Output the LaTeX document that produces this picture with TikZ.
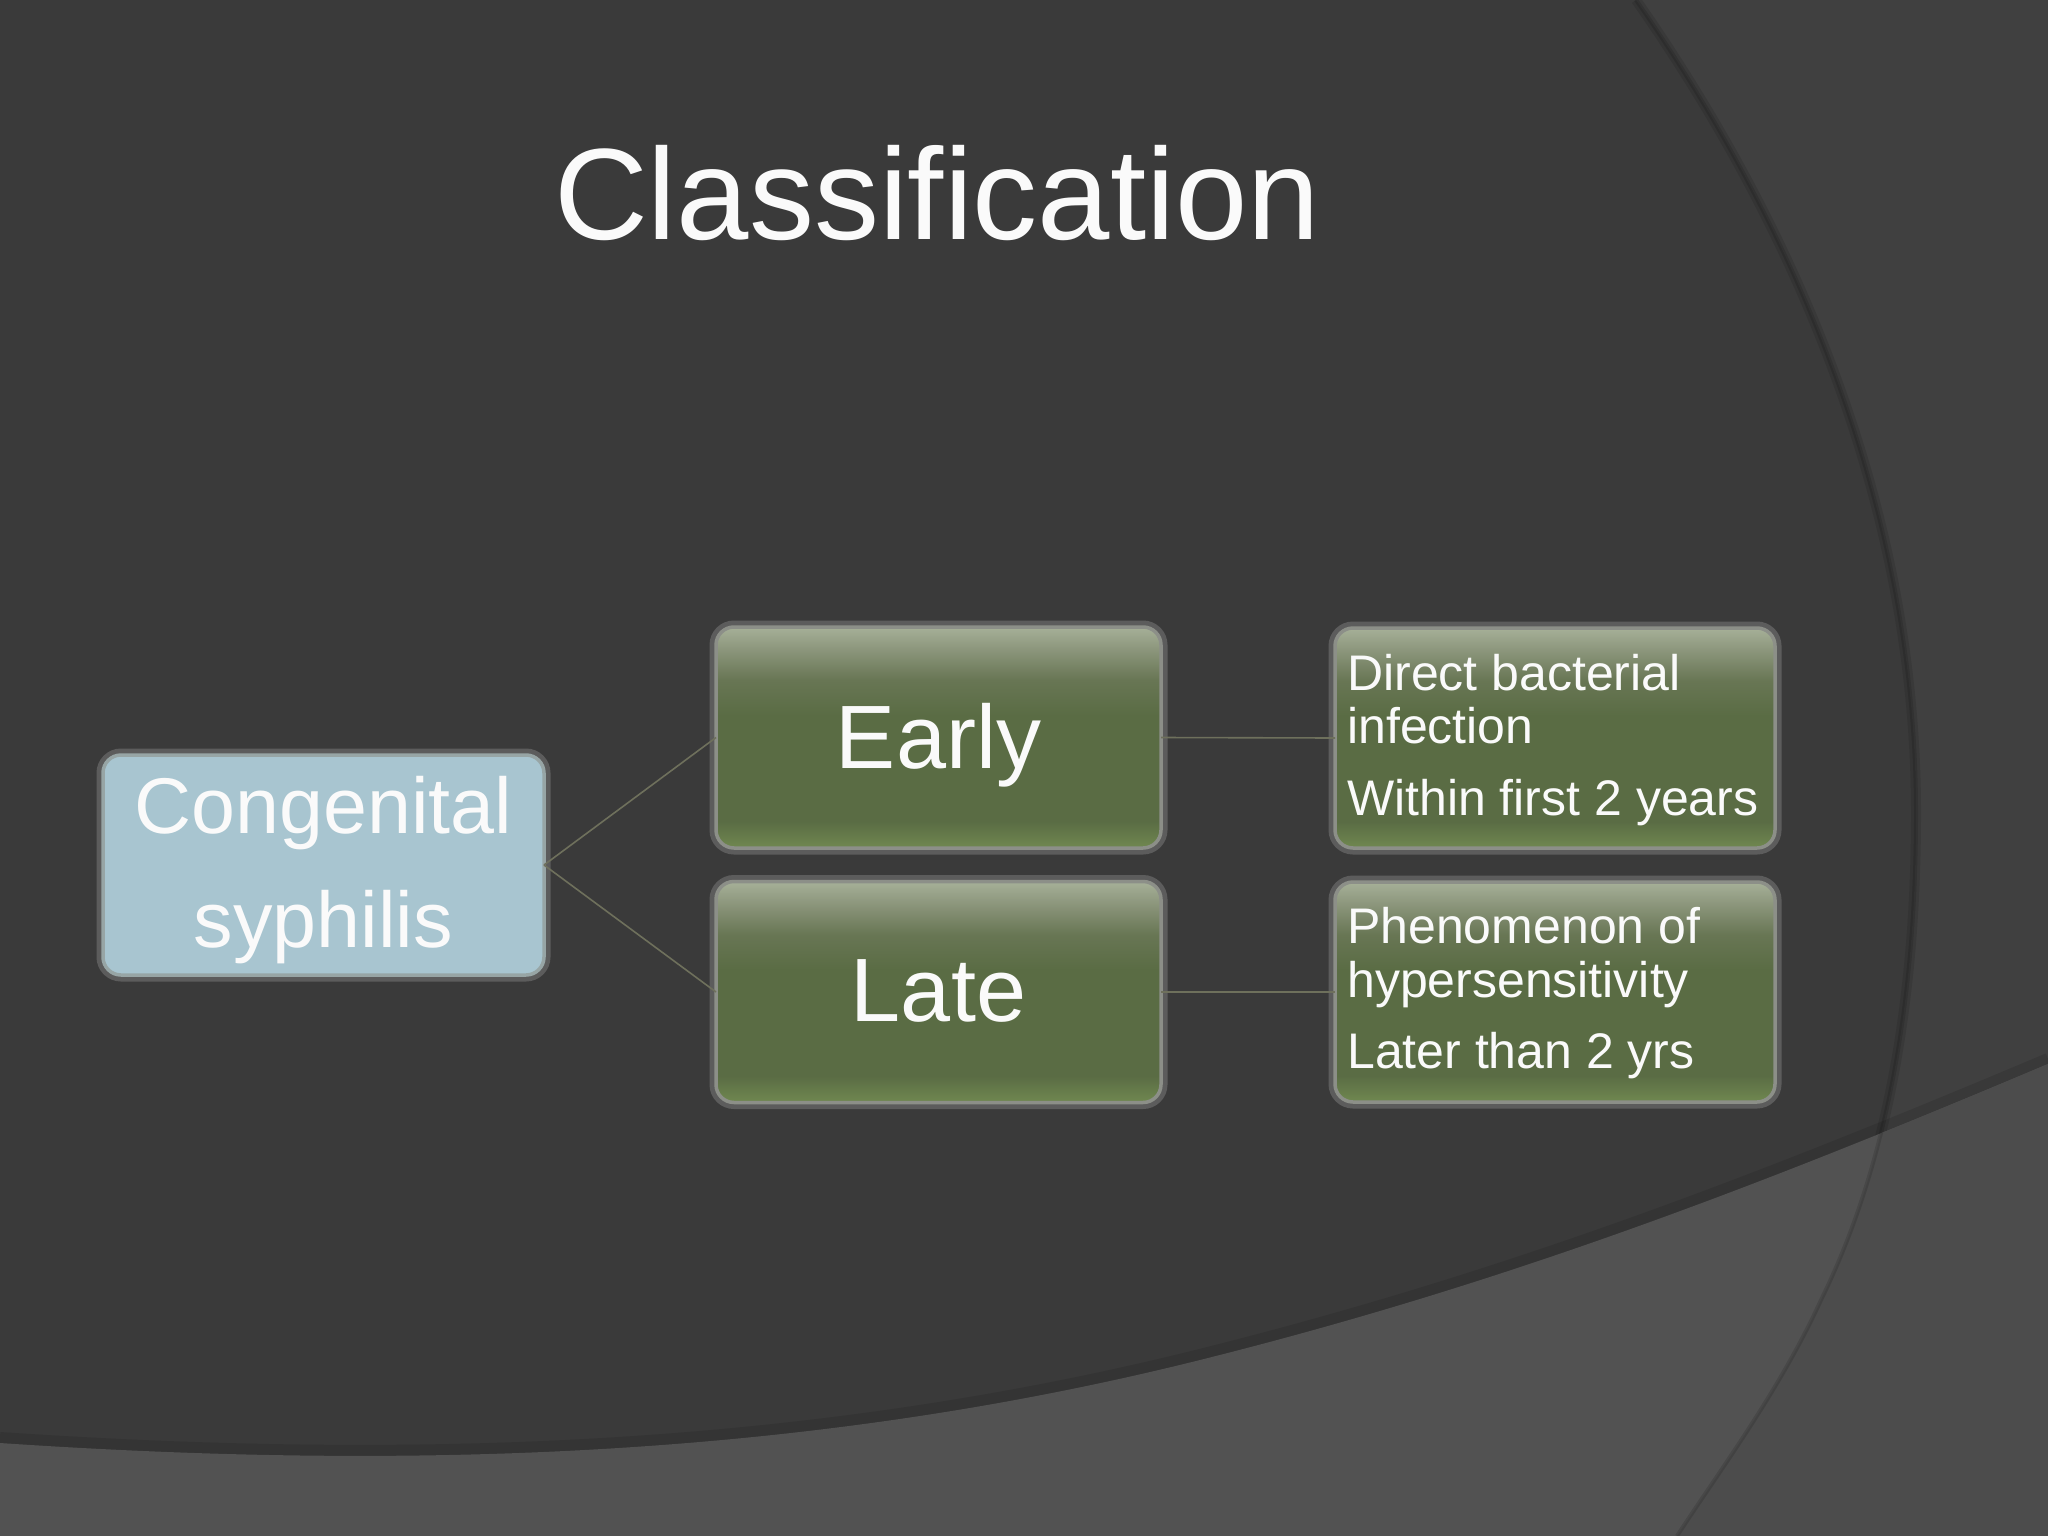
\documentclass[tikz,border=0pt]{standalone}
\usepackage{fontspec}
\setmainfont{Liberation Sans}
\definecolor{bgmain}{RGB}{58,58,58}
\definecolor{bgright}{RGB}{64,64,64}
\definecolor{bgband}{RGB}{82,82,82}
\definecolor{bgbandr}{RGB}{76,76,76}
\definecolor{bluefill}{RGB}{168,197,208}
\definecolor{gtop}{RGB}{166,176,152}
\definecolor{gup}{RGB}{140,150,124}
\definecolor{gup2}{RGB}{104,118,84}
\definecolor{gmid}{RGB}{90,108,68}
\definecolor{gbot}{RGB}{112,136,80}
\definecolor{edgec}{RGB}{140,143,136}
\definecolor{glowc}{RGB}{92,92,92}
\definecolor{connc}{RGB}{110,112,92}
\definecolor{txtc}{RGB}{250,250,250}
\pgfdeclareverticalshading{greenbox}{100bp}{color(0bp)=(gbot); color(25bp)=(gbot); color(31bp)=(gmid); color(55bp)=(gmid); color(63bp)=(gup2); color(70bp)=(gup); color(75bp)=(gtop); color(100bp)=(gtop)}
\begin{document}
\begin{tikzpicture}[x=1pt,y=-1pt,
  gbox/.style={rounded corners=18pt, shading=greenbox, draw=edgec, line width=3.5pt,
    preaction={draw=glowc, line width=13pt},
    minimum width=445pt, minimum height=221pt, inner sep=0pt, outer sep=0pt},
  bbox/.style={rounded corners=18pt, fill=bluefill, draw=edgec!60!bluefill, line width=3.5pt,
    preaction={draw=glowc, line width=13pt},
    minimum width=441pt, minimum height=220pt, inner sep=0pt, outer sep=0pt},
  conn/.style={draw=connc, line width=1.6pt},
  bigtxt/.style={text=txtc, font=\fontsize{90}{100}\selectfont, anchor=base, inner sep=0pt},
  midtxt/.style={text=txtc, font=\fontsize{79}{90}\selectfont, anchor=base, inner sep=0pt},
  smalltxt/.style={text=txtc, font=\fontsize{50}{56}\selectfont, anchor=base west, inner sep=0pt}]
\useasboundingbox (0,0) rectangle (2048,1536);
% background
\fill[bgmain] (0,0) rectangle (2048,1536);
\fill[bgright] (1636,0) .. controls (1790,220) and (1916,500) .. (1916,813)
  .. controls (1916,1050) and (1870,1200) .. (1821,1300)
  .. controls (1780,1390) and (1720,1470) .. (1677,1536) -- (2048,1536) -- (2048,0) -- cycle;
\draw[black, opacity=0.10, line width=10pt] (1636,0) .. controls (1790,220) and (1916,500) .. (1916,813)
  .. controls (1916,1050) and (1870,1200) .. (1821,1300);
\draw[black, opacity=0.12, line width=4pt] (1636,0) .. controls (1790,220) and (1916,500) .. (1916,813)
  .. controls (1916,1050) and (1870,1200) .. (1821,1300);
\draw[black, opacity=0.10, line width=12pt] (0,1438) .. controls (400,1465) and (800,1455) .. (1200,1355)
  .. controls (1500,1280) and (1750,1185) .. (2048,1059);
\fill[bgband] (0,1443) .. controls (400,1470) and (800,1460) .. (1200,1360)
  .. controls (1500,1285) and (1750,1190) .. (2048,1064) -- (2048,1536) -- (0,1536) -- cycle;
\begin{scope}
  \clip (0,1443) .. controls (400,1470) and (800,1460) .. (1200,1360)
  .. controls (1500,1285) and (1750,1190) .. (2048,1064) -- (2048,1536) -- (0,1536) -- cycle;
  \fill[bgbandr] (1916,813) .. controls (1916,1050) and (1870,1200) .. (1821,1300)
  .. controls (1780,1390) and (1720,1470) .. (1677,1536) -- (2048,1536) -- (2048,813) -- cycle;
  \draw[black, opacity=0.12, line width=4pt] (1916,813) .. controls (1916,1050) and (1870,1200) .. (1821,1300)
  .. controls (1780,1390) and (1720,1470) .. (1677,1536);
\end{scope}
% title
\node[text=txtc, font=\fontsize{130}{150}\selectfont, anchor=base, inner sep=0pt] (title) at (937,239) {Classification};
% boxes
\node[bbox] (cong) at (323.5,865) {};
\node[gbox] (early) at (938.5,737.5) {};
\node[gbox] (late) at (938.5,992) {};
\node[gbox, minimum width=440pt, minimum height=220pt] (direct) at (1555,738) {};
\node[gbox, minimum width=440pt, minimum height=220pt] (phen) at (1555,992) {};
% connectors
\draw[conn] (cong.east) -- (early.west);
\draw[conn] (cong.east) -- (late.west);
\draw[conn] (early.east) -- (direct.west);
\draw[conn] (late.east) -- (phen.west);
% texts
\node[midtxt] (t1) at (323.5,833) {Congenital};
\node[midtxt] (t2) at (323.5,947) {syphilis};
\node[bigtxt] (t3) at (938.5,768) {Early};
\node[bigtxt] (t4) at (938.5,1021) {Late};
\node[smalltxt] (t5) at (1347,690) {Direct bacterial};
\node[smalltxt] (t6) at (1347,743) {infection};
\node[smalltxt] (t7) at (1347,815) {Within first 2 years};
\node[smalltxt] (t8) at (1347,943) {Phenomenon of};
\node[smalltxt] (t9) at (1347,997) {hypersensitivity};
\node[smalltxt] (t10) at (1347,1068) {Later than 2 yrs};
\end{tikzpicture}
\end{document}
